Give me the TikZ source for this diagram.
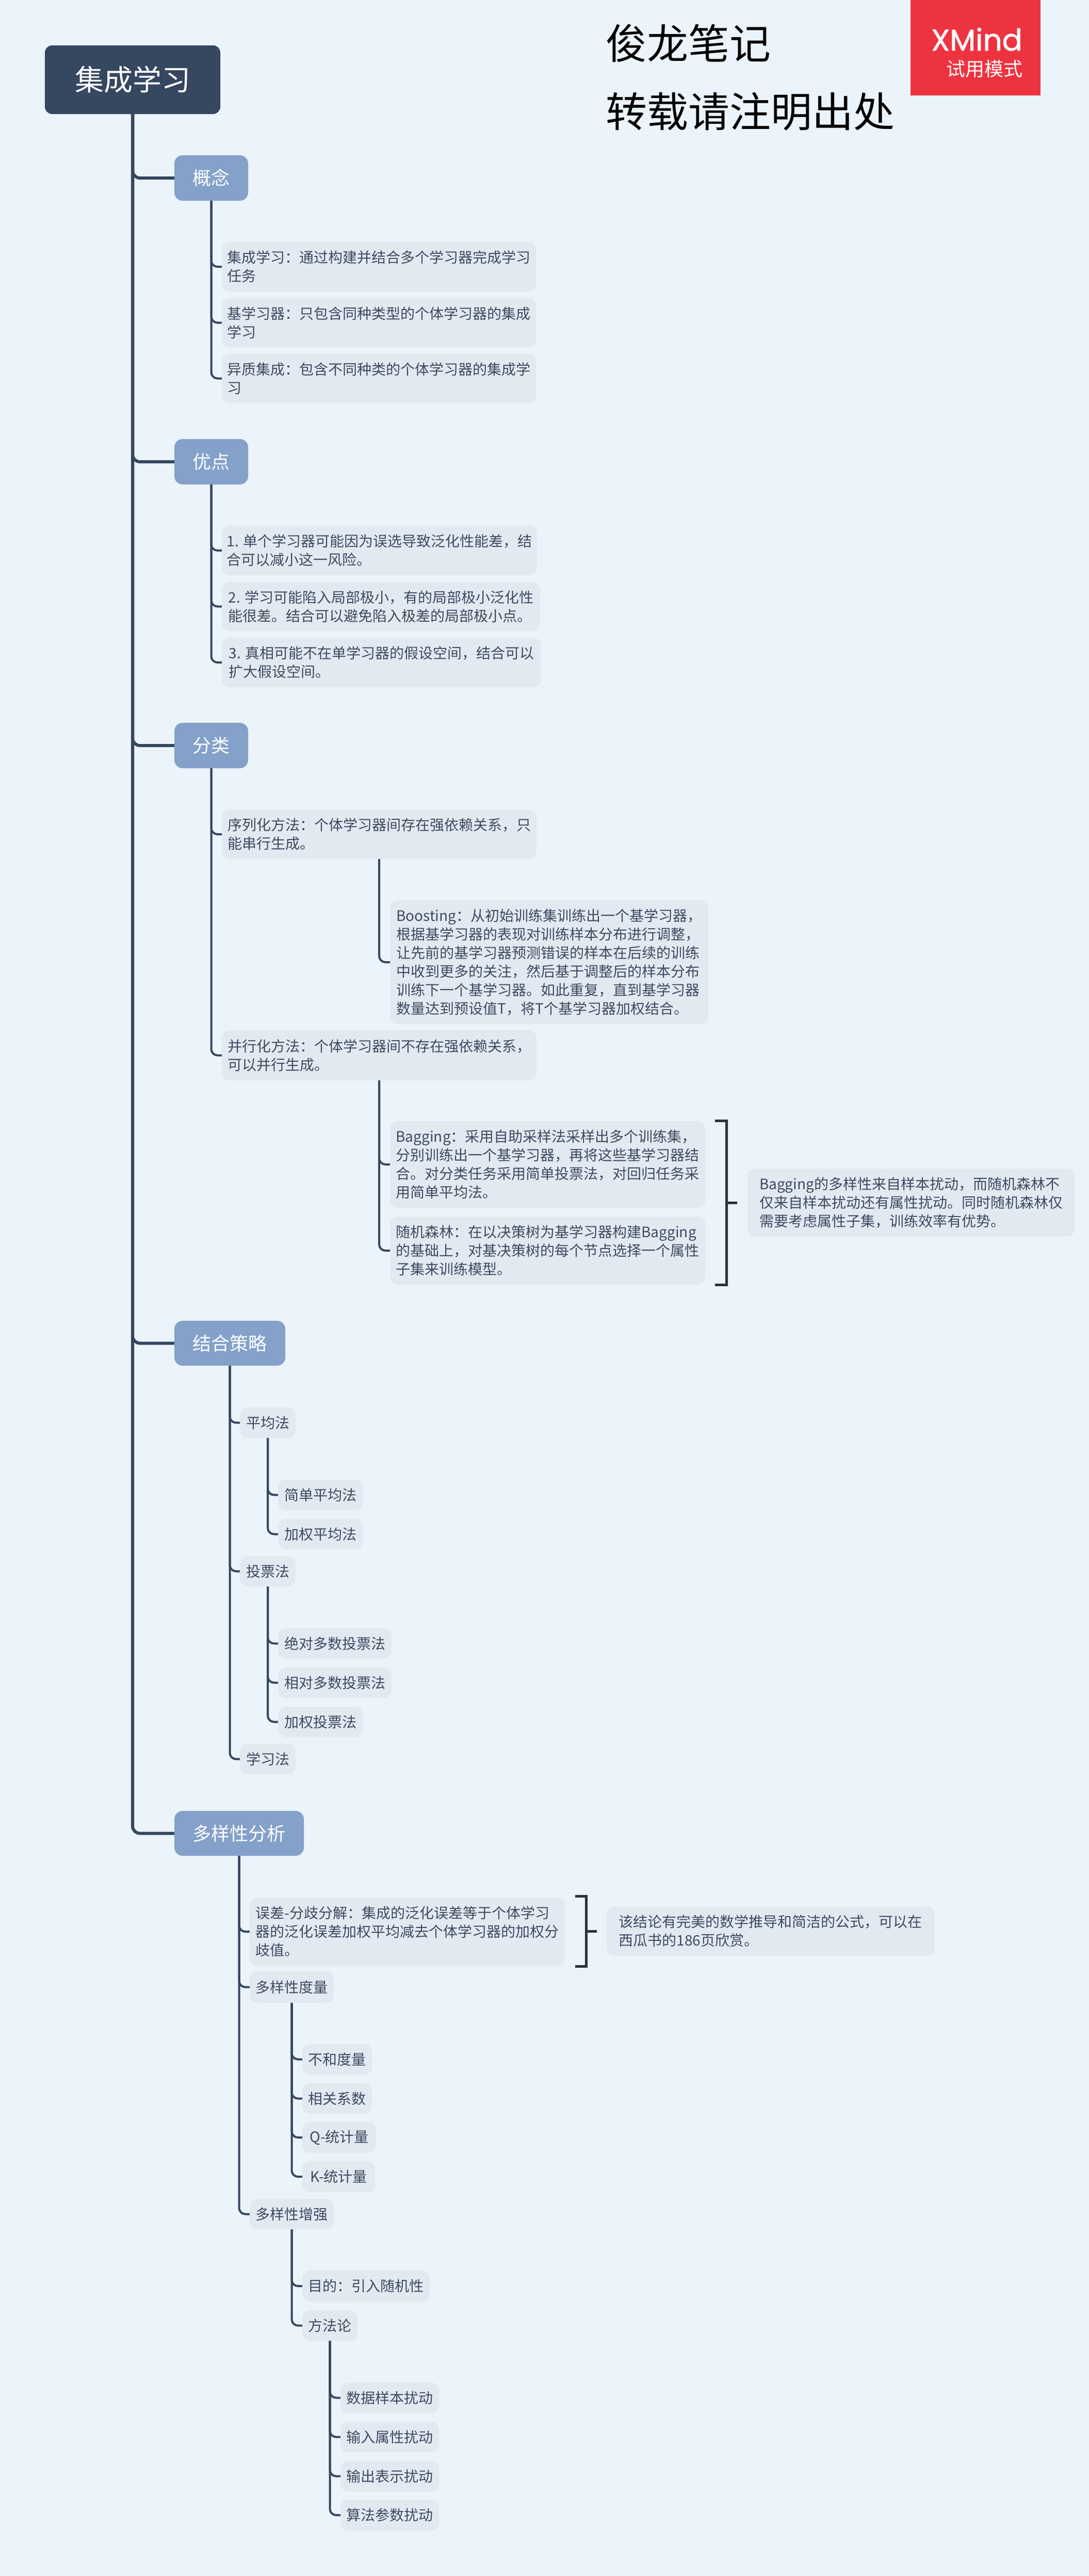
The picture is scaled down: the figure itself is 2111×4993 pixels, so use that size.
\documentclass[tikz,border=0pt]{standalone}
\usepackage{fontspec}
\setmainfont{Noto Sans CJK SC}
\definecolor{bgc}{HTML}{EBF3FB}
\definecolor{rootc}{HTML}{364760}
\definecolor{subc}{HTML}{84A1C9}
\definecolor{itemc}{HTML}{E3E9F1}
\definecolor{textc}{HTML}{3C4A60}
\definecolor{linec}{HTML}{35475F}
\definecolor{brk}{HTML}{2C3038}
\definecolor{redc}{HTML}{EE3340}
\tikzset{
  rootbox/.style={fill=rootc,text=white,rounded corners=14pt,font=\fontsize{56}{66}\selectfont},
  subbox/.style={fill=subc,text=white,rounded corners=16pt,font=\fontsize{36}{44}\selectfont},
  itembox/.style={fill=itemc,text=textc,rounded corners=15pt,align=left,font=\fontsize{28}{36}\selectfont},
  thicklink/.style={draw=linec,line width=6pt,rounded corners=14pt},
  link/.style={draw=linec,line width=4pt,rounded corners=12pt},
  bracketline/.style={draw=brk,line width=5pt},
  titletext/.style={text=black,anchor=west,inner sep=0pt,font=\fontsize{80}{90}\selectfont},
}
\newcommand{\bx}[7]{%
  \pgfmathsetmacro{\bxcx}{(#2+#4)/2}%
  \pgfmathsetmacro{\bxcy}{-(#3+#5)/2}%
  \pgfmathsetmacro{\bxw}{#4-#2}%
  \pgfmathsetmacro{\bxh}{#5-#3}%
  \node[#6,inner sep=0pt,minimum width=\bxw pt,minimum height=\bxh pt] (#1) at (\bxcx,\bxcy) {#7};%
}
\begin{document}
\begin{tikzpicture}[x=1pt,y=1pt]
\fill[bgc] (0,0) rectangle (2111,-4993);
\useasboundingbox (0,0) rectangle (2111,-4993);
% watermark + title
\bx{redbox}{1765}{0}{2017}{185}{fill=redc}{}
\node[text=white,anchor=base east,inner sep=0pt,font={\fontspec{Poppins}[FakeBold=1.2]\fontsize{58}{70}\selectfont}] (xm) at (1982,-98) {XMind};
\node[text=white,anchor=east,inner sep=0pt,font=\fontsize{37}{44}\selectfont] (tr) at (1983,-134) {试用模式};
\node[titletext] (t1) at (1174,-84) {俊龙笔记};
\node[titletext] (t2) at (1174,-216) {转载请注明出处};
% root
\bx{root}{87}{88}{427}{221}{rootbox}{集成学习}
% top branches
\bx{gn}{338}{301}{481}{389}{subbox}{概念}
\bx{yd}{338}{851}{481}{939}{subbox}{优点}
\bx{fl}{338}{1401}{481}{1489}{subbox}{分类}
\bx{jh}{338}{2560}{553}{2647}{subbox}{结合策略}
\bx{dy}{338}{3510}{589}{3597}{subbox}{多样性分析}
% concept
\bx{gn1}{430}{469}{1039}{565}{itembox}{集成学习：通过构建并结合多个学习器完成学习\\任务}
\bx{gn2}{430}{578}{1039}{673}{itembox}{基学习器：只包含同种类型的个体学习器的集成\\学习}
\bx{gn3}{430}{686}{1039}{781}{itembox}{异质集成：包含不同种类的个体学习器的集成学\\习}
% merits
\bx{yd1}{430}{1019}{1041}{1115}{itembox}{1. 单个学习器可能因为误选导致泛化性能差，结\\合可以减小这一风险。}
\bx{yd2}{430}{1128}{1047}{1223}{itembox}{2. 学习可能陷入局部极小，有的局部极小泛化性\\能很差。结合可以避免陷入极差的局部极小点。}
\bx{yd3}{430}{1236}{1049}{1332}{itembox}{3. 真相可能不在单学习器的假设空间，结合可以\\扩大假设空间。}
% classes
\bx{fl1}{430}{1569}{1040}{1665}{itembox}{序列化方法：个体学习器间存在强依赖关系，只\\能串行生成。}
\bx{bst}{756}{1745}{1373}{1985}{itembox}{Boosting：从初始训练集训练出一个基学习器，\\根据基学习器的表现对训练样本分布进行调整，\\让先前的基学习器预测错误的样本在后续的训练\\中收到更多的关注，然后基于调整后的样本分布\\训练下一个基学习器。如此重复，直到基学习器\\数量达到预设值T，将T个基学习器加权结合。}
\bx{fl2}{430}{1997}{1040}{2094}{itembox}{并行化方法：个体学习器间不存在强依赖关系，\\可以并行生成。}
\bx{bag}{756}{2173}{1367}{2341}{itembox}{Bagging：采用自助采样法采样出多个训练集，\\分别训练出一个基学习器，再将这些基学习器结\\合。对分类任务采用简单投票法，对回归任务采\\用简单平均法。}
\bx{rf}{756}{2358}{1367}{2490}{itembox}{随机森林：在以决策树为基学习器构建Bagging\\的基础上，对基决策树的每个节点选择一个属性\\子集来训练模型。}
\bx{nt1}{1449}{2265}{2083}{2397}{itembox}{Bagging的多样性来自样本扰动，而随机森林不\\仅来自样本扰动还有属性扰动。同时随机森林仅\\需要考虑属性子集，训练效率有优势。}
% combination
\bx{pj}{465}{2728}{573}{2787}{itembox}{平均法}
\bx{pj1}{539}{2868}{703}{2927}{itembox}{简单平均法}
\bx{pj2}{539}{2944}{703}{3003}{itembox}{加权平均法}
\bx{tp}{465}{3016}{573}{3075}{itembox}{投票法}
\bx{tp1}{539}{3156}{759}{3215}{itembox}{绝对多数投票法}
\bx{tp2}{539}{3232}{759}{3291}{itembox}{相对多数投票法}
\bx{tp3}{539}{3308}{703}{3367}{itembox}{加权投票法}
\bx{xx}{465}{3380}{573}{3439}{itembox}{学习法}
% diversity
\bx{wc}{484}{3678}{1095}{3810}{itembox}{误差-分歧分解：集成的泛化误差等于个体学习\\器的泛化误差加权平均减去个体学习器的加权分\\歧值。}
\bx{nt2}{1176}{3695}{1811}{3791}{itembox}{该结论有完美的数学推导和简洁的公式，可以在\\西瓜书的186页欣赏。}
\bx{dl}{484}{3821}{647}{3882}{itembox}{多样性度量}
\bx{dl1}{586}{3962}{721}{4021}{itembox}{不和度量}
\bx{dl2}{586}{4038}{721}{4097}{itembox}{相关系数}
\bx{dl3}{586}{4113}{729}{4173}{itembox}{Q-统计量}
\bx{dl4}{586}{4189}{727}{4249}{itembox}{K-统计量}
\bx{zq}{484}{4262}{647}{4321}{itembox}{多样性增强}
\bx{zq1}{586}{4401}{833}{4461}{itembox}{目的：引入随机性}
\bx{zq2}{586}{4478}{693}{4537}{itembox}{方法论}
\bx{rd1}{660}{4618}{851}{4677}{itembox}{数据样本扰动}
\bx{rd2}{660}{4694}{851}{4753}{itembox}{输入属性扰动}
\bx{rd3}{660}{4770}{851}{4829}{itembox}{输出表示扰动}
\bx{rd4}{660}{4845}{851}{4905}{itembox}{算法参数扰动}
% connectors
\foreach \c in {gn,yd,fl,jh,dy} \draw[thicklink] (root.south) |- (\c.west);
\foreach \c in {gn1,gn2,gn3} \draw[link] (gn.south) |- (\c.west);
\foreach \c in {yd1,yd2,yd3} \draw[link] (yd.south) |- (\c.west);
\foreach \c in {fl1,fl2} \draw[link] (fl.south) |- (\c.west);
\draw[link] (fl1.south) |- (bst.west);
\foreach \c in {bag,rf} \draw[link] (fl2.south) |- (\c.west);
\foreach \c in {pj,tp,xx} \draw[link] (jh.south) |- (\c.west);
\foreach \c in {pj1,pj2} \draw[link] (pj.south) |- (\c.west);
\foreach \c in {tp1,tp2,tp3} \draw[link] (tp.south) |- (\c.west);
\foreach \c in {wc,dl,zq} \draw[link] (dy.south) |- (\c.west);
\foreach \c in {dl1,dl2,dl3,dl4} \draw[link] (dl.south) |- (\c.west);
\foreach \c in {zq1,zq2} \draw[link] (zq.south) |- (\c.west);
\foreach \c in {rd1,rd2,rd3,rd4} \draw[link] (zq2.south) |- (\c.west);
% brackets
\coordinate (ba) at (1386,-2172);
\coordinate (bb) at (1408,-2172);
\coordinate (bc) at (1408,-2490);
\coordinate (bd) at (1386,-2490);
\coordinate (be) at (1408,-2331);
\coordinate (bf) at (1429,-2331);
\draw[bracketline] (ba) -- (bb) -- (bc) -- (bd);
\draw[bracketline] (be) -- (bf);
\coordinate (ca) at (1115,-3675);
\coordinate (cb) at (1136,-3675);
\coordinate (cc) at (1136,-3811);
\coordinate (cd) at (1115,-3811);
\coordinate (ce) at (1136,-3743);
\coordinate (cf) at (1157,-3743);
\draw[bracketline] (ca) -- (cb) -- (cc) -- (cd);
\draw[bracketline] (ce) -- (cf);
\end{tikzpicture}
\end{document}
